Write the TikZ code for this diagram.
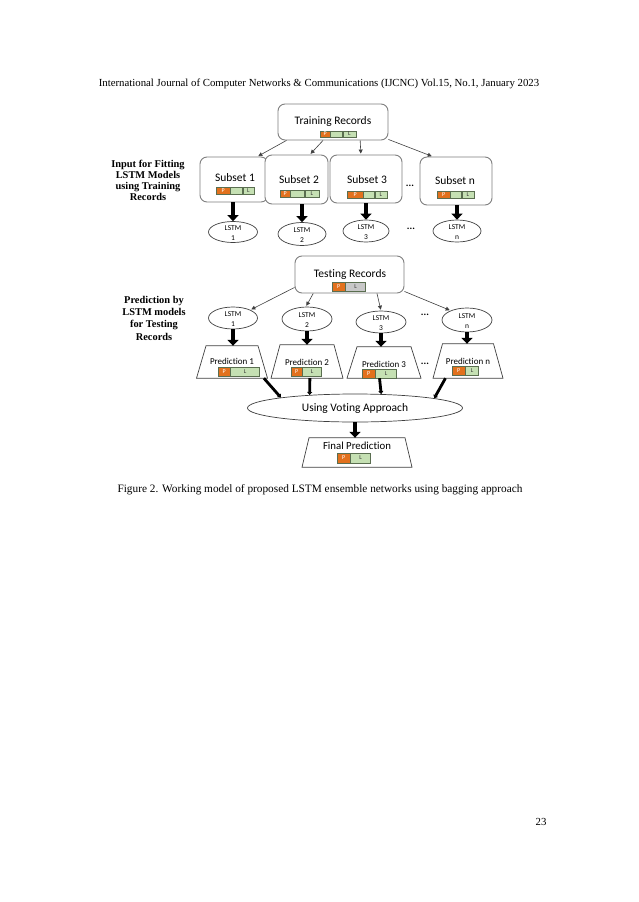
\documentclass[tikz,border=0pt]{standalone}
\usepackage{fontspec}
\setmainfont{Liberation Serif}
\newfontfamily\calfont[Ligatures=NoCommon]{Carlito}
\usetikzlibrary{arrows.meta,calc,shapes.geometric}
\definecolor{boxgray}{HTML}{7F7F7F}
\definecolor{edgegray}{HTML}{404040}
\definecolor{porange}{HTML}{E2711D}
\definecolor{lgreen}{HTML}{C5E0B3}
\definecolor{lgray}{HTML}{C8C8C8}
\definecolor{segedge}{HTML}{5A6E50}
\tikzset{
  rbox/.style={draw=boxgray, line width=0.9pt, rounded corners=7pt, fill=white, inner sep=0pt},
  lstm/.style={ellipse, draw=edgegray, line width=0.7pt, fill=white, inner sep=0pt},
  lstmtext/.style={inner sep=0pt, align=center, font=\calfont\fontsize{7.5}{10.5}\selectfont},
  ttext/.style={inner sep=0pt, font=\calfont\fontsize{11.5}{13}\selectfont},
  ptext/.style={inner sep=0pt, font=\calfont\fontsize{9}{11}\selectfont},
  dots/.style={inner sep=0pt, font=\calfont\bfseries\fontsize{10}{12}\selectfont},
  sidelabel/.style={inner sep=0pt, align=center, font=\bfseries\fontsize{10.4}{11}\selectfont},
  segP/.style={draw=segedge, line width=0.4pt, fill=porange, text=white, anchor=west, inner sep=0pt, font=\calfont\fontsize{6}{6}\selectfont},
  segL/.style={draw=segedge, line width=0.4pt, text=black!80, anchor=west, inner sep=0pt, font=\calfont\fontsize{6}{6}\selectfont},
  trapbox/.style={inner sep=0pt},
  trapline/.style={draw=edgegray, line width=0.7pt, fill=white},
  bigarrow/.style={draw=black, line width=4.2pt, -{Triangle[length=6pt,width=11pt]}},
  thinarrow/.style={draw=edgegray, line width=0.6pt, -{Triangle[length=4pt,width=4pt]}, shorten >=1pt},
  voteline/.style={draw=black, line width=2.8pt, -{Triangle[length=3pt,width=5pt]}},
}
\newcommand\plbar[8]{%
  \node[segP,minimum height=#4pt,minimum width=#5pt] (#1P) at (#2,#3) {P};
  \ifdim#7pt>0pt
    \node[segL,fill=#8,minimum height=#4pt,minimum width=#6pt] (#1L) at (#1P.east) {};
    \node[segL,fill=#8,minimum height=#4pt,minimum width=#7pt] (#1M) at (#1L.east) {L\hspace{3pt}};
  \else
    \node[segL,fill=#8,minimum height=#4pt,minimum width=#6pt] (#1L) at (#1P.east) {L};
  \fi
}
\newcommand\trapdraw[3]{%
  \draw[trapline] ($(#1.north)+(-#2,0)$) -- ($(#1.north)+(#2,0)$) -- ($(#1.south)+(#3,0)$) -- ($(#1.south)+(-#3,0)$) -- cycle;
}
\begin{document}
\begin{tikzpicture}[x=1pt,y=-1pt]
\useasboundingbox (0,0) rectangle (638,902);
\fill[white] (0,0) rectangle (638,902);

% header, caption, page number
\node[inner sep=0pt, font=\fontsize{10.8}{12}\selectfont] (hdr) at (319,84) {International Journal of Computer Networks \& Communications (IJCNC) Vol.15, No.1, January 2023};
\node[inner sep=0pt, font=\fontsize{11.3}{13}\selectfont] (cap) at (320,490) {Figure 2. Working model of proposed LSTM ensemble networks using bagging approach};
\node[inner sep=0pt, font=\fontsize{10.8}{12}\selectfont] (pgn) at (541,822) {23};

% side labels
\node[sidelabel] (lab1) at (148,180) {Input for Fitting\\LSTM Models\\using Training\\Records};
\node[sidelabel, font=\bfseries\fontsize{10.4}{12.3}\selectfont] (lab2) at (154,318) {Prediction by\\LSTM models\\for Testing\\Records};

% training records
\node[rbox, minimum width=110pt, minimum height=36pt] (TR) at (333,122) {};
\node[ttext] (TRt) at (333,121) {Training Records};
\plbar{TRb}{320}{134}{6}{10}{12}{13}{lgreen}

% subsets
\node[rbox, minimum width=68pt, minimum height=45pt] (S1) at (234,179.5) {};
\node[rbox, minimum width=63pt, minimum height=49pt] (S2) at (296.5,179.5) {};
\node[rbox, minimum width=72pt, minimum height=48pt] (S3) at (366,179) {};
\node[rbox, minimum width=72pt, minimum height=48pt] (Sn) at (456,181) {};
\node[ttext] (S1t) at (235,178) {Subset 1};
\node[ttext] (S2t) at (299,180) {Subset 2};
\node[ttext] (S3t) at (367,180) {Subset 3};
\node[ttext] (Snt) at (455,181) {Subset n};
\plbar{S1b}{216}{190.5}{7}{14}{12}{11}{lgreen}
\plbar{S2b}{280}{193.5}{7}{10}{14}{14}{lgreen}
\plbar{S3b}{347}{195}{7}{16}{11}{12}{lgreen}
\plbar{Snb}{437}{195}{7}{13}{11}{12}{lgreen}
\node[dots] (d1) at (410,186) {...};

% thin arrows training -> subsets
\draw[thinarrow] ($(TR.south west)!0.08!(TR.south east)$) -- ($(S1.north west)!0.84!(S1.north east)$);
\draw[thinarrow] ($(TR.south west)!0.41!(TR.south east)$) -- ($(S2.north west)!0.71!(S2.north east)$);
\draw[thinarrow] ($(TR.south west)!0.745!(TR.south east)$) -- ($(S3.north west)!0.43!(S3.north east)$);
\draw[thinarrow] ($(TR.south east)+(0,-1)$) -- ($(Sn.north west)!0.18!(Sn.north east)$);

% LSTM row 1
\node[lstm, minimum width=49pt, minimum height=21pt] (L1) at (233,232) {};
\node[lstm, minimum width=48pt, minimum height=23pt] (L2) at (302,234) {};
\node[lstm, minimum width=46pt, minimum height=22pt] (L3) at (366,231) {};
\node[lstm, minimum width=48pt, minimum height=22pt] (Ln) at (457,231) {};
\node[lstmtext] (L1t) at (233,233) {LSTM\\1};
\node[lstmtext] (L2t) at (302,235) {LSTM\\2};
\node[lstmtext] (L3t) at (366,232) {LSTM\\3};
\node[lstmtext] (Lnt) at (457,232) {LSTM\\n};
\node[dots] (d2) at (411,229) {...};
\draw[bigarrow] (L1.north |- S1.south) -- (L1.north);
\draw[bigarrow] (L2.north |- S2.south) -- (L2.north);
\draw[bigarrow] (L3.north |- S3.south) -- (L3.north);
\draw[bigarrow] (Ln.north |- Sn.south) -- (Ln.north);

% testing records
\node[rbox, minimum width=109pt, minimum height=37pt] (TE) at (349.5,274.5) {};
\node[ttext] (TEt) at (350,274) {Testing Records};
\plbar{TEb}{332}{287}{9}{13}{20}{0}{lgray}

% LSTM row 2
\node[lstm, minimum width=49pt, minimum height=22pt] (M1) at (233,318) {};
\node[lstm, minimum width=50pt, minimum height=24pt] (M2) at (307,319) {};
\node[lstm, minimum width=50pt, minimum height=22pt] (M3) at (381,322) {};
\node[lstm, minimum width=50pt, minimum height=24pt] (Mn) at (467,320) {};
\node[lstmtext] (M1t) at (233,319) {LSTM\\1};
\node[lstmtext] (M2t) at (307,320) {LSTM\\2};
\node[lstmtext] (M3t) at (381,323) {LSTM\\3};
\node[lstmtext] (Mnt) at (467,321) {LSTM\\n};
\node[dots] (d3) at (425,315) {...};
\draw[thinarrow] ($(TE.south west)+(0,-6)$) -- (M1.25);
\draw[thinarrow] ($(TE.south west)!0.17!(TE.south east)$) -- (M2.95);
\draw[thinarrow] ($(TE.south west)!0.75!(TE.south east)$) -- (M3.north);
\draw[thinarrow] ($(TE.south east)+(0,-2)$) -- (Mn.150);

% predictions
\node[trapbox, minimum width=72pt, minimum height=32pt] (P1) at (232,362) {};
\node[trapbox, minimum width=72pt, minimum height=33pt] (P2) at (307,361.5) {};
\node[trapbox, minimum width=74pt, minimum height=31pt] (P3) at (384,362.5) {};
\node[trapbox, minimum width=70pt, minimum height=34pt] (Pn) at (468,361) {};
\trapdraw{P1}{26}{35.5}
\trapdraw{P2}{27}{36}
\trapdraw{P3}{27}{37}
\trapdraw{Pn}{25.5}{35}
\node[ptext] (P1t) at (232,361) {Prediction 1};
\node[ptext] (P2t) at (307,362) {Prediction 2};
\node[ptext] (P3t) at (384,364) {Prediction 3};
\node[ptext] (Pnt) at (468,361) {Prediction n};
\plbar{P1b}{218}{371.5}{9}{12}{29}{0}{lgreen}
\plbar{P2b}{291}{372}{9}{11}{19}{0}{lgreen}
\plbar{P3b}{362}{374}{9}{13}{21}{0}{lgreen}
\plbar{Pnb}{452}{371}{9}{13}{13}{0}{lgreen}
\node[dots] (d4) at (425,364) {...};
\draw[bigarrow] (M1.south) -- (M1.south |- P1.north);
\draw[bigarrow] (M2.south) -- (M2.south |- P2.north);
\draw[bigarrow] (M3.south) -- (M3.south |- P3.north);
\draw[bigarrow] (Mn.south) -- (Mn.south |- Pn.north);

% voting
\node[lstm, minimum width=215pt, minimum height=28pt, font=\calfont\fontsize{11.5}{13}\selectfont] (V) at (355,408) {Using Voting Approach};
\draw[voteline] ($(P1.south west)!0.94!(P1.south east)$) -- (V.172);
\draw[voteline] ($(P2.south west)!0.54!(P2.south east)$) -- (V.164);
\draw[voteline] ($(P3.south west)!0.44!(P3.south east)$) -- (V.28);
\draw[voteline] ($(Pn.south west)!0.18!(Pn.south east)$) -- (V.7);

% final prediction
\node[trapbox, minimum width=110pt, minimum height=29pt] (FP) at (357,452.5) {};
\trapdraw{FP}{48}{55}
\node[inner sep=0pt, font=\calfont\fontsize{10.8}{12}\selectfont] (FPt) at (357,446) {Final Prediction};
\plbar{FPb}{337}{458}{10}{13}{20}{0}{lgreen}
\draw[bigarrow] (V.south) -- (V.south |- FP.north);
\end{tikzpicture}
\end{document}
